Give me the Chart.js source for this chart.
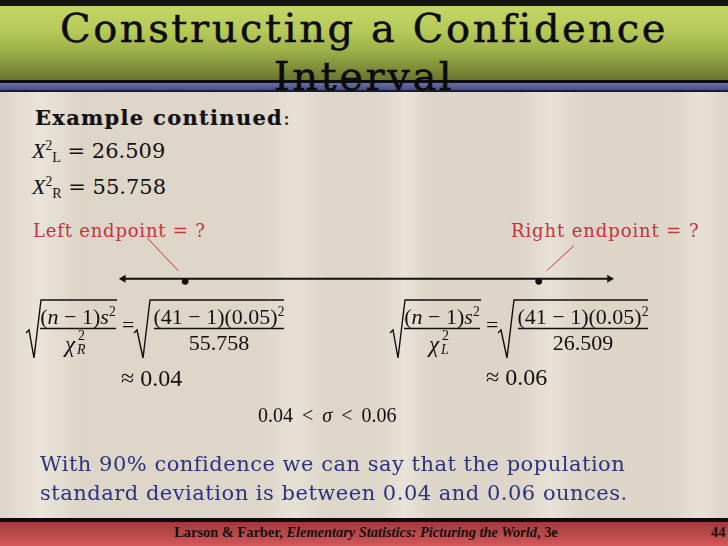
<!DOCTYPE html>
<html>
<head>
<meta charset="utf-8">
<script src="https://cdn.jsdelivr.net/npm/chart.js@4.4.1/dist/chart.umd.min.js"></script>
<style>
  html, body { margin:0; padding:0; }
  body { width:728px; height:546px; overflow:hidden; position:relative;
    background: linear-gradient(90deg, #ddd5c8 0px, #e9e3d9 40px, #ddd5c8 80px, #ded6c9 260px, #e6e0d5 295px, #ddd5c8 330px, #dfd7ca 380px, #e8e2d8 405px, #ddd5c8 430px, #ddd5c8 520px, #e7e1d6 550px, #ddd5c8 580px, #ddd5c8 670px, #e6e0d6 700px, #dcd4c7 728px);
    font-family: "DejaVu Serif", serif; color:#111; }
  .abs { position:absolute; white-space:nowrap; }
  #hdrTop { position:absolute; left:0; top:0; width:728px; height:6px; background:#15150f; }
  #hdr { position:absolute; left:0; top:6px; width:728px; height:74px;
    background: linear-gradient(180deg, #c3d566 0%, #b5c958 35%, #9cb049 60%, #7e8c37 85%, #6a7530 100%); }
  #hdrLine { position:absolute; left:0; top:80px; width:728px; height:3px; background:#0e0e0e; }
  #hdrBlue { position:absolute; left:0; top:83px; width:728px; height:7px; background: linear-gradient(180deg,#6a6ea6,#4a4e86); }
  #hdrDark { position:absolute; left:0; top:90px; width:728px; height:2px; background:#1c1c30; }
  #ftrLine { position:absolute; left:0; top:518px; width:728px; height:4px; background:#0c0c0c; }
  #ftr { position:absolute; left:0; top:522px; width:728px; height:24px; background: linear-gradient(180deg,#a03a3c,#d4585a); }
  .title { font-size:40px; letter-spacing:2.6px; width:728px; text-align:center; left:0; color:#0b0b0b; -webkit-text-stroke:0.5px #0b0b0b; }
  .m { font-family:"Liberation Serif", "Times New Roman", serif; }
  .red { color:#c8323c; }
  sup.s { font-size:0.62em; vertical-align:0.6em; line-height:0; }
  sub.s { font-size:0.64em; vertical-align:-0.25em; line-height:0; }
  .ctr { text-align:center; width:200px; }
</style>
</head>
<body>
<div id="hdrTop"></div><div id="hdr"></div><div id="hdrLine"></div><div id="hdrBlue"></div><div id="hdrDark"></div>
<div class="abs title" style="top:5px;">Constructing a Confidence</div>
<div class="abs title" style="top:53px;">Interval</div>

<div class="abs" style="left:35px; top:105px; font-size:21px; letter-spacing:1.3px;"><b style="-webkit-text-stroke:0.2px #111;">Example continued</b><span style="letter-spacing:0">:</span></div>
<div class="abs" style="left:32px; top:138px; font-size:21px;"><span class="m" style="font-size:22px;"><i>X</i><sup class="s">2</sup><sub class="s">L</sub></span> = 26.509</div>
<div class="abs" style="left:32px; top:174px; font-size:21px;"><span class="m" style="font-size:22px;"><i>X</i><sup class="s">2</sup><sub class="s">R</sub></span> = 55.758</div>

<div class="abs red" style="left:33px; top:220px; font-size:18px; letter-spacing:0.8px;">Left endpoint = ?</div>
<div class="abs red" style="left:511px; top:220px; font-size:18px; letter-spacing:0.9px;">Right endpoint = ?</div>

<canvas id="c" width="728" height="60" style="position:absolute; left:0; top:236px;"></canvas>

<svg class="abs" style="left:0; top:0;" width="728" height="546">
  <g fill="none" stroke="#111" stroke-width="1.4">
    <polyline points="26,333 29,330 34,358 41,300 117,300"/>
    <polyline points="134,333 137,330 143,358 150,300 284,300"/>
    <polyline points="390,333 393,330 398,358 405,300 481,300"/>
    <polyline points="498,333 501,330 507,358 514,300 648,300"/>
    <line x1="40" y1="328.5" x2="116" y2="328.5"/>
    <line x1="154" y1="328.5" x2="284" y2="328.5"/>
    <line x1="404" y1="328.5" x2="480" y2="328.5"/>
    <line x1="518" y1="328.5" x2="648" y2="328.5"/>
  </g>
</svg>

<!-- left formula -->
<div class="abs m ctr" style="left:-22px; top:304px; font-size:22px;">(<i>n</i> − 1)<i>s</i><sup class="s">2</sup></div>
<div class="abs m" style="left:65px; top:332px; font-size:23px;"><i>χ</i></div>
<div class="abs m" style="left:78px; top:328px; font-size:14px;">2</div>
<div class="abs m" style="left:77px; top:342px; font-size:14px;"><i>R</i></div>
<div class="abs m" style="left:122px; top:312px; font-size:22px;">=</div>
<div class="abs m ctr" style="left:119px; top:304px; font-size:22px;">(41 − 1)(0.05)<sup class="s">2</sup></div>
<div class="abs m ctr" style="left:119px; top:330px; font-size:22px;">55.758</div>
<div class="abs m" style="left:121px; top:365px; font-size:24px;">≈ 0.04</div>

<!-- right formula -->
<div class="abs m ctr" style="left:342px; top:304px; font-size:22px;">(<i>n</i> − 1)<i>s</i><sup class="s">2</sup></div>
<div class="abs m" style="left:429px; top:332px; font-size:23px;"><i>χ</i></div>
<div class="abs m" style="left:442px; top:328px; font-size:14px;">2</div>
<div class="abs m" style="left:441px; top:342px; font-size:14px;"><i>L</i></div>
<div class="abs m" style="left:486px; top:312px; font-size:22px;">=</div>
<div class="abs m ctr" style="left:483px; top:304px; font-size:22px;">(41 − 1)(0.05)<sup class="s">2</sup></div>
<div class="abs m ctr" style="left:483px; top:330px; font-size:22px;">26.509</div>
<div class="abs m" style="left:486px; top:364px; font-size:24px;">≈ 0.06</div>

<div class="abs m" style="left:258px; top:404px; font-size:20px; word-spacing:4px;">0.04 &lt; <i>σ</i> &lt; 0.06</div>

<div class="abs" style="left:40px; top:450px; font-size:21px; letter-spacing:0.5px; color:#2b3282; line-height:29px;">With 90% confidence we can say that the population<br>standard deviation is between 0.04 and 0.06 ounces.</div>

<div id="ftrLine"></div><div id="ftr"></div>
<div class="abs m" style="left:0; width:728px; text-align:center; top:524px; font-size:14.4px; font-weight:bold; color:#111; padding-left:2px;">Larson &amp; Farber, <i>Elementary Statistics: Picturing the World</i>, 3e</div>
<div class="abs m" style="left:711px; top:524px; font-size:14.4px; font-weight:bold; color:#111;">44</div>

<script>
// Data: interval endpoints for sigma and the extent of the number line
const endpointValues = [0.04, 0.06];
const endpointNames = ['Left endpoint', 'Right endpoint'];
const lineExtent = [0.0365, 0.064];
const scaleRange = [0.02978, 0.07045];

const LINE_Y = 0.25, POINT_Y = 0.2;

const pointerPlugin = {
  id: 'pointers',
  afterDatasetsDraw(chart) {
    const ctx = chart.ctx, xs = chart.scales.x, ys = chart.scales.y;
    const tails = [[-38, -41], [35, -33]];
    ctx.save();
    ctx.strokeStyle = '#c8323c';
    ctx.lineWidth = 1;
    endpointValues.forEach((v, i) => {
      const px = xs.getPixelForValue(v), py = ys.getPixelForValue(LINE_Y);
      const hx = px + (i === 0 ? -7 : 8), hy = py - 8;
      ctx.beginPath();
      ctx.moveTo(px + tails[i][0], py + tails[i][1]);
      ctx.lineTo(hx, hy);
      ctx.stroke();
    });
    ctx.restore();
  }
};

new Chart(document.getElementById('c'), {
  type: 'scatter',
  data: {
    datasets: [
      {
        label: 'number line',
        data: lineExtent.map(v => ({ x: v, y: LINE_Y })),
        showLine: true,
        borderColor: '#111',
        backgroundColor: '#111',
        borderWidth: 2,
        pointStyle: 'triangle',
        pointRadius: 4.5,
        pointRotation: [-90, 90],
        pointBorderWidth: 0
      },
      {
        label: 'endpoints',
        data: endpointValues.map(v => ({ x: v, y: POINT_Y })),
        showLine: false,
        backgroundColor: '#111',
        borderColor: '#111',
        pointRadius: 3.4,
        pointBorderWidth: 0
      }
    ]
  },
  options: {
    responsive: false,
    animation: false,
    events: [],
    layout: { padding: 0 },
    plugins: { legend: { display: false }, tooltip: { enabled: false } },
    scales: {
      x: { type: 'linear', display: false, min: scaleRange[0], max: scaleRange[1] },
      y: { type: 'linear', display: false, min: 0, max: 1 }
    }
  },
  plugins: [pointerPlugin]
});
</script>
</body>
</html>
